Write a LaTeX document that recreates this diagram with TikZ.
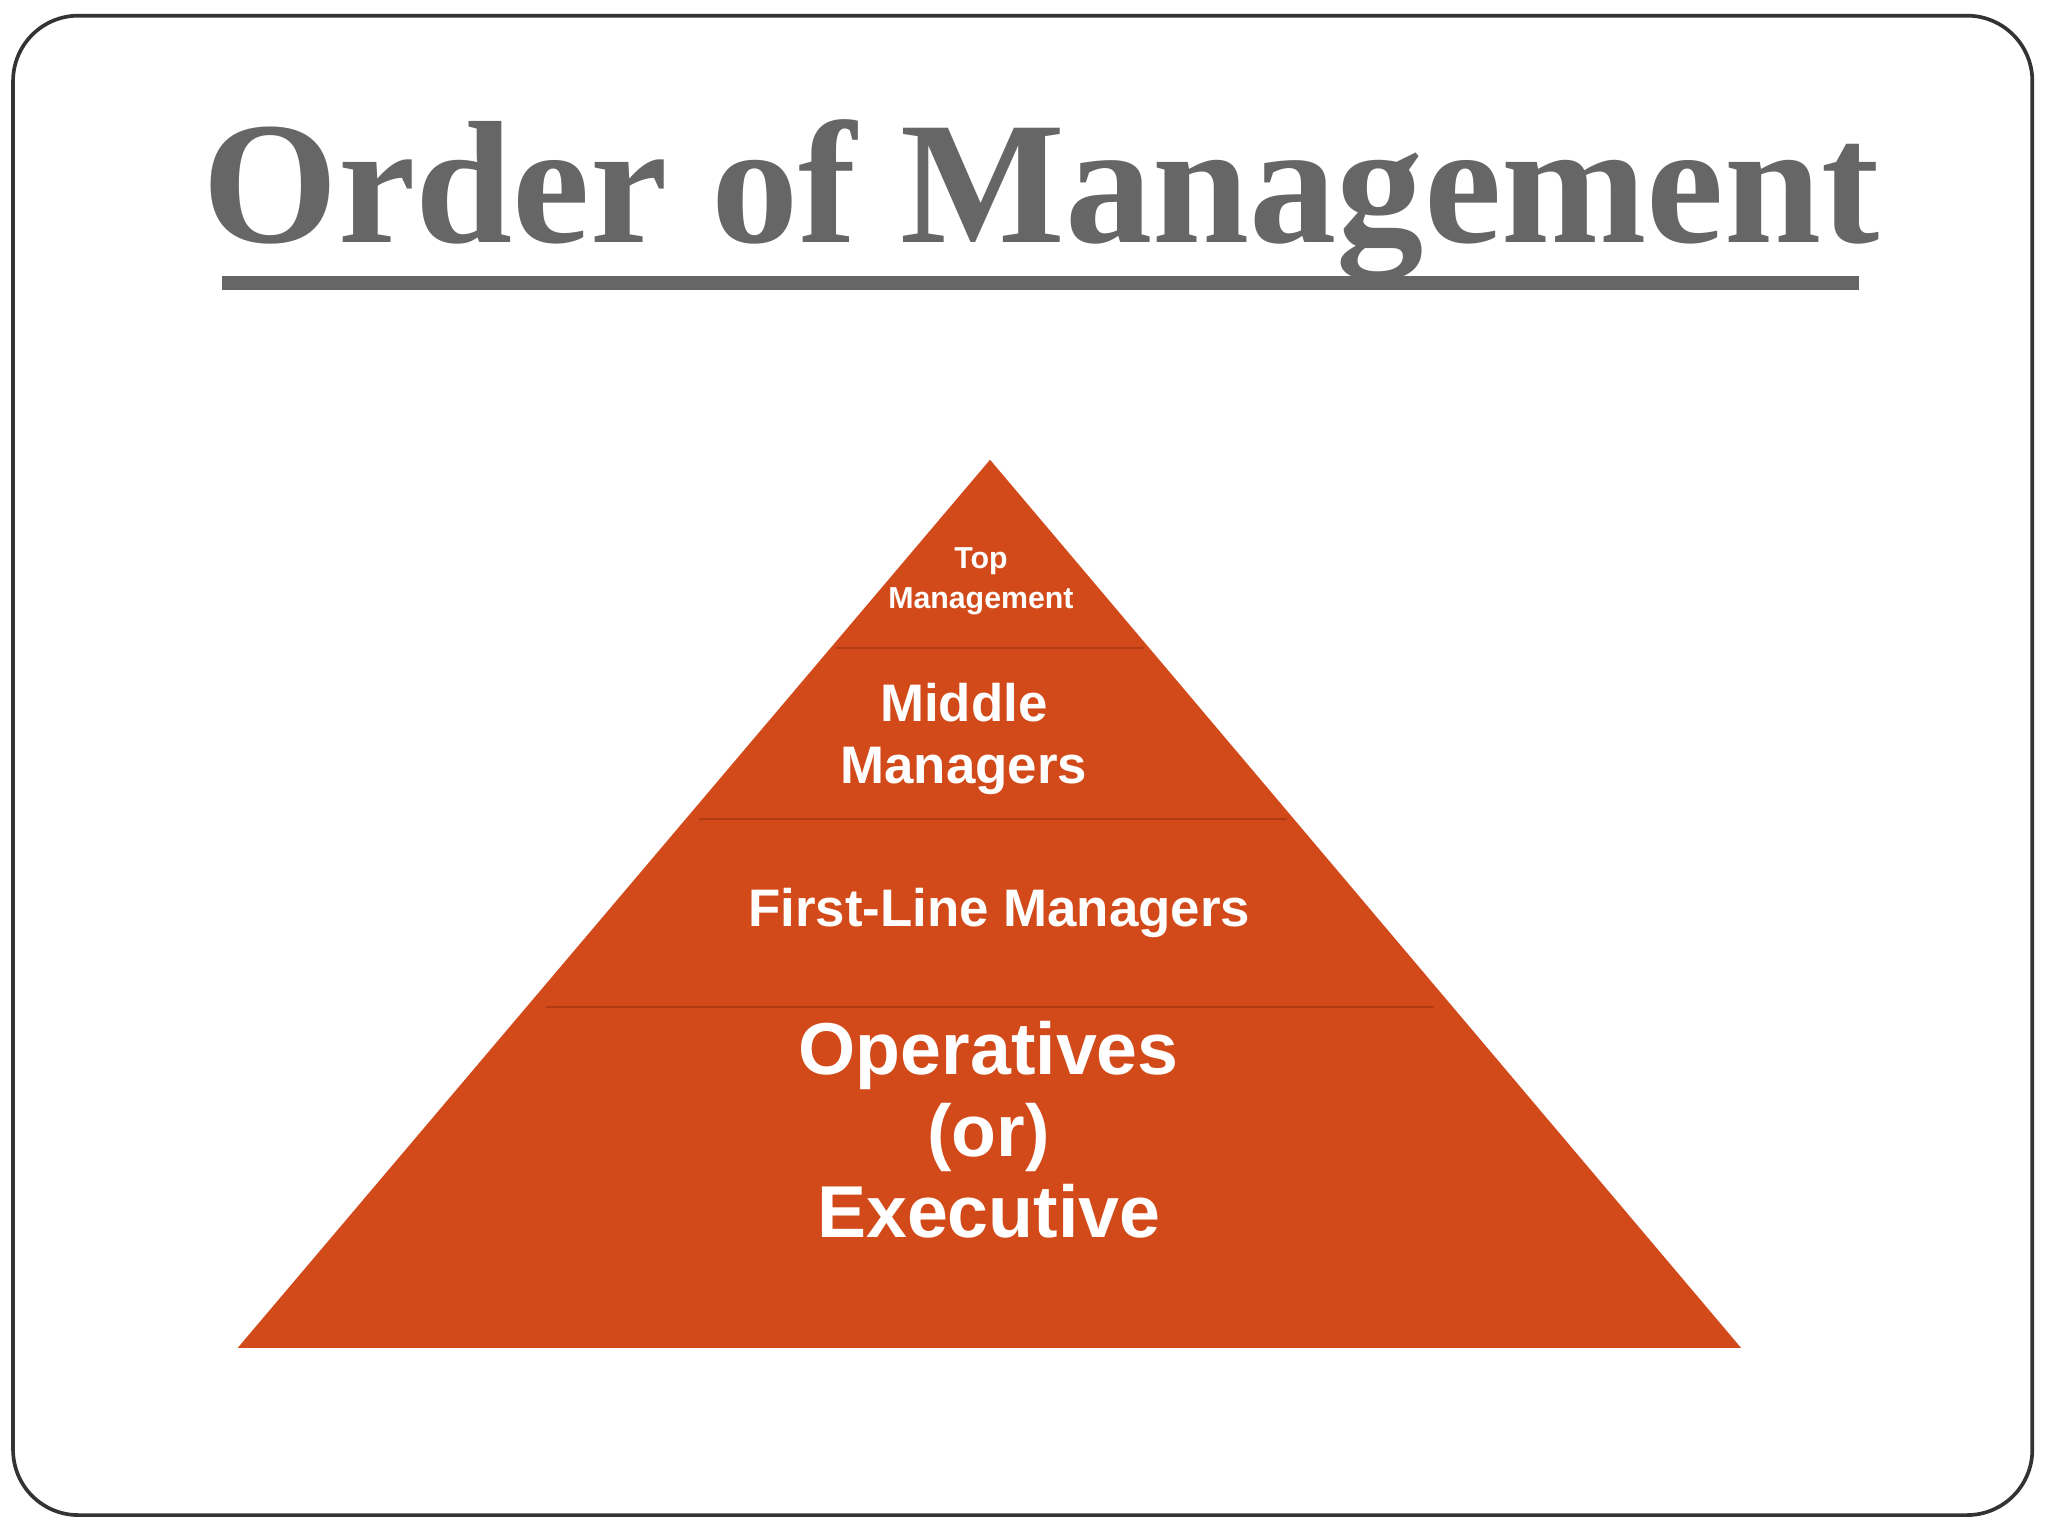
\documentclass[tikz,border=0pt]{standalone}
\usepackage{fontspec}
\setmainfont{Liberation Serif}
\setsansfont{Liberation Sans}
\definecolor{pyr}{HTML}{D24A1A}
\definecolor{pyrline}{HTML}{B23A12}
\definecolor{titlegray}{HTML}{666666}
\begin{document}
\begin{tikzpicture}[x=0.01cm,y=-0.01cm,
  lab/.style={text=white,font=\sffamily\bfseries,align=center,inner sep=0pt}]
\useasboundingbox (0,0) rectangle (1568,1176);
\draw[black!80,line width=0.8pt,rounded corners=0.5cm] (10,12) rectangle (1556,1160);
\node[text=titlegray,font=\fontsize{38}{40}\selectfont\bfseries,inner sep=0pt] (title) at (797,153) {Order of Management};
\fill[titlegray] (170,211) rectangle (1423,222);
\coordinate (apex) at (758,352);
\coordinate (bl) at (182,1032);
\coordinate (br) at (1333,1032);
\fill[pyr] (apex) -- (br) -- (bl) -- cycle;
\draw[pyrline,line width=0.4pt] (640,496) -- (876,496);
\draw[pyrline,line width=0.4pt] (535,627) -- (985,627);
\draw[pyrline,line width=0.4pt] (418,771) -- (1098,771);
\node[lab,font=\sffamily\bfseries\fontsize{6.6}{8.6}\selectfont] (top) at (751,445) {Top\\Management};
\node[lab,font=\sffamily\bfseries\fontsize{11.5}{13.5}\selectfont] (mid) at (738,566) {Middle\\Managers};
\node[lab,font=\sffamily\bfseries\fontsize{11.5}{13.5}\selectfont] (first) at (765,699) {First-Line Managers};
\node[lab,font=\sffamily\bfseries\fontsize{16}{17.8}\selectfont] (op) at (757,865) {Operatives\\(or)\\Executive};
\end{tikzpicture}
\end{document}
